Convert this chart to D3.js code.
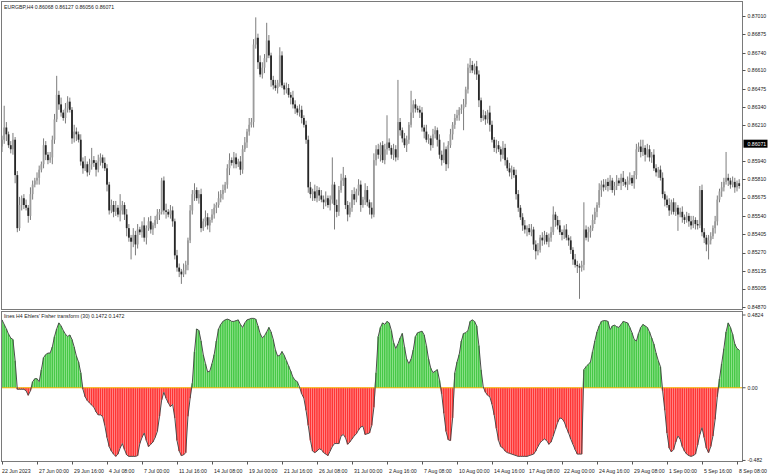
<!DOCTYPE html>
<html><head><meta charset="utf-8">
<script src="https://cdn.jsdelivr.net/npm/d3@7/dist/d3.min.js"></script>
<style>
body{margin:0;background:#fff}
svg{display:block}
text{font-family:"Liberation Sans",Arial,sans-serif;fill:#1a1a1a}
</style>
</head><body>
<svg id="c" width="768" height="476"></svg>
<script>
const symbolTitle = "EURGBP,H4  0.86068 0.86127 0.86056 0.86071";
const indicatorTitle = "lines H4 Ehlers' Fisher transform (30) 0.1472 0.1472";
const priceTicks = [0.87010,0.86875,0.86740,0.86610,0.86475,0.86340,0.86210,0.85940,0.85810,0.85675,0.85540,0.85405,0.85270,0.85135,0.85005,0.84870];
const currentPrice = 0.86071;
const fisherTicks = [0.4824, 0, -0.482];
const fisherTickLabels = ["0.4824", "0.00", "-0.482"];
const timeLabels = ["22 Jun 2023","27 Jun 00:00","29 Jun 16:00","4 Jul 08:00","7 Jul 00:00","11 Jul 16:00","14 Jul 08:00","19 Jul 00:00","21 Jul 16:00","26 Jul 08:00","31 Jul 00:00","2 Aug 16:00","7 Aug 08:00","10 Aug 00:00","14 Aug 16:00","17 Aug 08:00","22 Aug 00:00","24 Aug 16:00","29 Aug 08:00","1 Sep 00:00","5 Sep 16:00","8 Sep 08:00"];
const barsPerTimeLabel = 16;
const firstOpen = 0.8605;
const closes = [
0.8610,0.8619,0.8614,0.8606,0.8603,0.8610,0.8584,0.8545,0.8562,0.8567,
0.8562,0.8560,0.8554,0.8570,0.8577,0.8580,0.8582,0.8588,0.8592,0.8606,
0.8599,0.8595,0.8597,0.8610,0.8625,0.8643,0.8636,0.8630,0.8626,0.8633,
0.8638,0.8632,0.8611,0.8616,0.8614,0.8610,0.8594,0.8589,0.8592,0.8586,
0.8592,0.8595,0.8593,0.8588,0.8594,0.8597,0.8593,0.8589,0.8577,0.8558,
0.8562,0.8557,0.8560,0.8555,0.8558,0.8562,0.8555,0.8545,0.8538,0.8535,
0.8540,0.8533,0.8544,0.8542,0.8547,0.8538,0.8545,0.8550,0.8544,0.8547,
0.8551,0.8555,0.8557,0.8580,0.8558,0.8557,0.8555,0.8558,0.8550,0.8525,
0.8516,0.8513,0.8511,0.8514,0.8518,0.8536,0.8558,0.8570,0.8573,0.8567,
0.8570,0.8545,0.8550,0.8553,0.8547,0.8551,0.8555,0.8560,0.8562,0.8567,
0.8570,0.8573,0.8577,0.8589,0.8595,0.8593,0.8597,0.8592,0.8594,0.8588,
0.8603,0.8608,0.8616,0.8621,0.8623,0.8680,0.8685,0.8667,0.8658,0.8663,
0.8670,0.8683,0.8672,0.8654,0.8650,0.8648,0.8652,0.8672,0.8650,0.8647,
0.8648,0.8643,0.8641,0.8636,0.8633,0.8630,0.8632,0.8626,0.8621,0.8610,
0.8575,0.8570,0.8572,0.8567,0.8573,0.8569,0.8566,0.8564,0.8567,0.8562,
0.8566,0.8577,0.8562,0.8557,0.8573,0.8580,0.8582,0.8562,0.8555,0.8560,
0.8570,0.8566,0.8572,0.8577,0.8562,0.8566,0.8573,0.8564,0.8560,0.8555,
0.8595,0.8603,0.8599,0.8606,0.8595,0.8603,0.8608,0.8604,0.8599,0.8603,
0.8597,0.8623,0.8617,0.8611,0.8606,0.8610,0.8621,0.8630,0.8636,0.8633,
0.8632,0.8630,0.8619,0.8616,0.8610,0.8611,0.8606,0.8614,0.8617,0.8610,
0.8599,0.8595,0.8603,0.8592,0.8606,0.8614,0.8621,0.8626,0.8628,0.8632,
0.8633,0.8636,0.8647,0.8663,0.8665,0.8661,0.8664,0.8658,0.8639,0.8626,
0.8628,0.8625,0.8630,0.8621,0.8610,0.8604,0.8606,0.8603,0.8599,0.8604,
0.8595,0.8589,0.8586,0.8588,0.8584,0.8570,0.8560,0.8553,0.8547,0.8544,
0.8545,0.8542,0.8544,0.8533,0.8528,0.8529,0.8538,0.8536,0.8540,0.8535,
0.8538,0.8542,0.8555,0.8551,0.8547,0.8542,0.8540,0.8544,0.8538,0.8536,
0.8529,0.8522,0.8518,0.8517,0.8516,0.8518,0.8544,0.8538,0.8542,0.8545,
0.8551,0.8557,0.8562,0.8573,0.8577,0.8575,0.8579,0.8576,0.8580,0.8573,
0.8576,0.8580,0.8578,0.8582,0.8579,0.8577,0.8580,0.8582,0.8578,0.8584,
0.8603,0.8605,0.8601,0.8604,0.8599,0.8603,0.8597,0.8599,0.8589,0.8586,
0.8588,0.8582,0.8570,0.8566,0.8562,0.8558,0.8564,0.8557,0.8560,0.8555,
0.8557,0.8553,0.8551,0.8554,0.8550,0.8547,0.8551,0.8548,0.8547,0.8573,
0.8542,0.8538,0.8533,0.8536,0.8539,0.8545,0.8550,0.8566,0.8572,0.8575,
0.8579,0.8582,0.8580,0.8577,0.8579,0.8575,0.8578,0.8576];
// shadow lengths in pips (0.0001)
const upperShadow = [
3,16,4,2,3,5,2,3,6,2, 3,4,2,5,3,2,4,3,2,5, 3,2,4,3,4,14,3,5,2,4, 4,3,2,5,3,2,4,3,6,2,
4,9,3,2,5,3,2,4,3,2, 4,3,5,2,12,3,2,4,3,2, 5,3,4,2,3,6,2,3,4,2, 3,4,2,2,3,5,2,4,3,2,
4,3,2,5,3,2,4,3,5,2, 3,4,2,5,3,2,4,3,2,5, 3,4,2,3,5,2,4,3,2,4, 3,4,2,5,3,4,15,3,5,4,
3,13,4,2,3,4,2,6,3,2, 4,3,2,5,3,2,4,3,2,3, 3,4,2,5,3,2,4,3,5,2, 3,20,2,4,3,5,8,2,3,4,
3,5,2,4,3,2,5,3,2,4, 5,3,4,2,3,4,20,3,2,4, 3,31,3,2,4,3,2,16,3,4, 2,3,4,2,5,3,2,4,3,2,
4,3,5,2,3,4,2,3,4,2, 3,4,2,3,5,3,2,4,3,2, 4,3,2,5,3,2,4,3,2,5, 3,2,4,3,2,4,3,2,3,4,
2,3,4,2,3,5,2,4,3,2, 3,4,6,2,3,4,2,3,4,2, 3,2,4,3,2,3,20,3,4,2, 4,3,2,5,3,4,2,3,4,2,
3,4,2,3,5,2,3,4,2,3, 4,3,5,6,2,4,3,2,4,3, 2,3,4,2,3,5,2,3,4,2, 3,4,2,3,2,4,3,2,3,3,
4,3,2,4,3,2,4,3,2,4, 3,19,3,2,4,3,2,3];
const lowerShadow = [
4,3,5,2,3,4,6,3,2,4, 3,2,5,3,4,2,3,5,2,3, 4,3,2,5,3,2,4,3,2,4, 3,2,4,3,5,2,3,4,2,3,
2,4,3,5,2,3,4,2,5,3, 2,4,3,2,5,3,4,6,3,13, 4,8,3,2,4,3,5,2,3,4, 2,3,4,2,3,5,2,3,4,3,
3,4,7,2,3,4,2,3,5,2, 4,3,2,4,3,5,2,3,4,2, 3,4,2,3,5,2,4,3,2,4, 3,2,4,3,2,4,3,5,2,3,
4,3,2,5,3,2,4,3,2,4, 3,2,5,3,4,2,3,4,2,3, 4,3,5,2,3,4,2,5,3,2, 4,3,18,4,3,2,4,3,5,2,
3,4,2,3,5,2,4,3,5,3, 2,4,3,5,2,3,4,2,3,4, 3,2,4,3,2,5,3,2,4,3, 2,4,3,5,2,3,4,2,3,5,
3,4,2,5,3,2,4,3,2,4, 3,16,2,3,4,2,3,4,5,3, 2,4,3,5,2,3,4,2,5,3, 4,2,3,5,2,4,3,2,4,3,
5,2,3,4,6,3,2,4,3,2, 4,3,2,5,3,2,4,3,2,4, 3,4,2,5,23,3,4,2,3,4, 2,3,4,2,5,3,2,4,3,2,
4,3,2,5,3,2,4,3,2,4, 3,2,4,3,5,2,3,4,2,3, 4,2,3,5,2,4,3,2,3,12, 2,4,3,2,4,3,2,4,3,2,
3,4,5,11,3,2,4,3,2,4, 3,2,4,3,2,4,3,2];
const fisher = [
0.45,0.42,0.39,0.355,0.33,0.32,0.18,-0.01,-0.01,-0.01,
-0.01,-0.02,-0.05,-0.02,0.04,0.06,0.06,0.04,0.12,0.2,
0.22,0.23,0.23,0.27,0.34,0.39,0.43,0.41,0.38,0.355,
0.34,0.35,0.32,0.27,0.21,0.17,0.1,-0.01,-0.06,-0.085,
-0.1,-0.115,-0.13,-0.16,-0.18,-0.18,-0.19,-0.25,-0.33,-0.39,
-0.42,-0.44,-0.455,-0.44,-0.4,-0.37,-0.41,-0.445,-0.455,-0.455,
-0.455,-0.455,-0.45,-0.37,-0.33,-0.3,-0.35,-0.39,-0.375,-0.36,
-0.33,-0.29,-0.19,-0.08,-0.03,-0.07,-0.1,-0.125,-0.11,-0.2,
-0.35,-0.42,-0.45,-0.445,-0.43,-0.19,-0.07,0.03,0.24,0.39,
0.38,0.31,0.22,0.16,0.105,0.11,0.16,0.22,0.31,0.39,
0.42,0.44,0.45,0.455,0.45,0.44,0.44,0.445,0.45,0.42,
0.4,0.43,0.45,0.455,0.46,0.46,0.455,0.41,0.36,0.33,
0.345,0.37,0.4,0.37,0.32,0.25,0.21,0.215,0.24,0.215,
0.18,0.145,0.11,0.07,0.05,0.04,0.005,-0.04,-0.07,-0.15,
-0.25,-0.35,-0.42,-0.43,-0.42,-0.405,-0.41,-0.43,-0.44,-0.45,
-0.42,-0.39,-0.37,-0.37,-0.37,-0.32,-0.31,-0.33,-0.375,-0.36,
-0.34,-0.32,-0.305,-0.28,-0.26,-0.255,-0.31,-0.305,-0.3,-0.25,
-0.13,0.1,0.34,0.4,0.43,0.42,0.44,0.43,0.38,0.3,
0.26,0.29,0.33,0.36,0.27,0.19,0.16,0.19,0.25,0.34,
0.365,0.37,0.375,0.35,0.28,0.19,0.13,0.1,0.11,0.12,
0.05,-0.04,-0.17,-0.29,-0.345,-0.35,-0.2,0.1,0.17,0.22,
0.31,0.36,0.365,0.38,0.44,0.45,0.44,0.41,0.28,0.12,
0.005,-0.03,-0.05,-0.06,-0.11,-0.18,-0.27,-0.35,-0.39,-0.4,
-0.42,-0.43,-0.435,-0.44,-0.445,-0.45,-0.455,-0.455,-0.455,-0.455,
-0.455,-0.45,-0.445,-0.44,-0.42,-0.39,-0.365,-0.35,-0.34,-0.35,
-0.375,-0.36,-0.32,-0.275,-0.23,-0.2,-0.205,-0.225,-0.265,-0.3,
-0.34,-0.375,-0.41,-0.44,-0.44,-0.44,0.12,0.14,0.155,0.17,
0.24,0.31,0.37,0.41,0.44,0.445,0.445,0.44,0.385,0.41,
0.415,0.405,0.4,0.42,0.44,0.435,0.43,0.4,0.365,0.32,
0.31,0.36,0.4,0.42,0.41,0.4,0.37,0.33,0.29,0.23,
0.18,0.14,-0.02,-0.15,-0.3,-0.4,-0.425,-0.41,-0.36,-0.32,
-0.34,-0.39,-0.42,-0.44,-0.45,-0.455,-0.45,-0.44,-0.38,-0.31,
-0.265,-0.33,-0.4,-0.43,-0.39,-0.32,-0.21,-0.06,0.06,0.16,
0.26,0.37,0.43,0.4,0.355,0.29,0.26,0.25];

const pip = 0.0001;
const candles = closes.map((c, i) => {
  const o = i === 0 ? firstOpen : closes[i - 1];
  return {i, o, c, h: Math.max(o, c) + upperShadow[i] * pip, l: Math.min(o, c) - lowerShadow[i] * pip};
});

const svg = d3.select("#c");
const L = 1.5, R = 742.5, mainTop = 1.5, mainBot = 309.5, indTop = 311.5, indBot = 461.5;

const x = d3.scaleLinear().domain([0, 338]).range([2, 741.375]);
const y = d3.scaleLinear().domain([0.84870, 0.87010]).range([307, 16]);
const fy = d3.scaleLinear().domain([-0.4824, 0.4824]).range([460.5, 315]);

const defs = svg.append("defs");
defs.append("clipPath").attr("id","cm").append("rect").attr("x",L).attr("y",mainTop).attr("width",R-L).attr("height",mainBot-mainTop);
defs.append("clipPath").attr("id","ci").append("rect").attr("x",L).attr("y",indTop).attr("width",R-L).attr("height",indBot-indTop);

// ---- main candles
const gm = svg.append("g").attr("clip-path","url(#cm)");
gm.selectAll("line.w").data(candles).join("line")
  .attr("x1", d => x(d.i)).attr("x2", d => x(d.i))
  .attr("y1", d => y(d.h)).attr("y2", d => y(d.l))
  .attr("stroke", "#7c7c7c").attr("stroke-width", 1);
gm.selectAll("rect.b").data(candles).join("rect")
  .attr("x", d => x(d.i) - 0.9).attr("width", 1.8)
  .attr("y", d => y(Math.max(d.o, d.c)))
  .attr("height", d => Math.max(1, Math.abs(y(d.o) - y(d.c))))
  .attr("fill", d => d.c >= d.o ? "#9c9c9c" : "#262626");

// ---- indicator
const gi = svg.append("g").attr("clip-path","url(#ci)");
const bw = x(1) - x(0);
gi.append("path").datum(fisher)
  .attr("d", d3.area().x((d,i)=>x(i)).y0(fy(0)).y1(d=>fy(Math.max(d,0))))
  .attr("fill", "#b4eeb0");
gi.append("path").datum(fisher)
  .attr("d", d3.area().x((d,i)=>x(i)).y0(fy(0)).y1(d=>fy(Math.min(d,0))))
  .attr("fill", "#ffb2b2");
gi.selectAll("rect.h").data(fisher).join("rect")
  .attr("x", (d,i) => x(i) - bw/2 + 0.25).attr("width", bw - 0.6)
  .attr("y", d => Math.min(fy(d), fy(0)))
  .attr("height", d => Math.abs(fy(d) - fy(0)))
  .attr("fill", d => d >= 0 ? "#46c846" : "#ff3434");
gi.append("line").attr("x1", L).attr("x2", R).attr("y1", fy(0)).attr("y2", fy(0))
  .attr("stroke", "#f4b400").attr("stroke-width", 1);
gi.append("path").datum(fisher)
  .attr("d", d3.line().x((d,i)=>x(i)).y(d=>fy(d)))
  .attr("fill", "none").attr("stroke", "#4d4d4d").attr("stroke-width", 1);

// ---- frames
svg.append("rect").attr("x",L).attr("y",mainTop).attr("width",R-L).attr("height",mainBot-mainTop)
  .attr("fill","none").attr("stroke","#7a7a7a");
svg.append("rect").attr("x",L).attr("y",indTop).attr("width",R-L).attr("height",indBot-indTop)
  .attr("fill","none").attr("stroke","#7a7a7a");

// ---- price axis
const pa = svg.append("g");
pa.selectAll("line").data(priceTicks).join("line")
  .attr("x1", R).attr("x2", R + 3).attr("y1", d => Math.round(y(d)) + 0.5).attr("y2", d => Math.round(y(d)) + 0.5)
  .attr("stroke", "#555");
pa.selectAll("text").data(priceTicks).join("text")
  .attr("x", R + 5).attr("y", d => y(d)).attr("dy", "0.35em")
  .attr("font-size", 5.2).text(d => d.toFixed(5));
const cy = y(currentPrice);
svg.append("rect").attr("x", R + 1).attr("y", cy - 4).attr("width", 24).attr("height", 8).attr("fill", "#000");
svg.append("text").attr("x", R + 5).attr("y", cy).attr("dy", "0.35em").attr("font-size", 5.2)
  .style("fill", "#fff").text(currentPrice.toFixed(5));

// ---- indicator axis
const ia = svg.append("g");
ia.selectAll("line").data(fisherTicks).join("line")
  .attr("x1", R).attr("x2", R + 3).attr("y1", d => fy(d)).attr("y2", d => fy(d)).attr("stroke", "#555");
ia.selectAll("text").data(fisherTicks).join("text")
  .attr("x", R + 5).attr("y", d => fy(d)).attr("dy", "0.35em").attr("font-size", 5.2)
  .text((d, i) => fisherTickLabels[i]);

// ---- time axis
const ta = svg.append("g");
ta.selectAll("line").data(timeLabels).join("line")
  .attr("x1", (d,k) => Math.round(x(k * barsPerTimeLabel)) + 0.5).attr("x2", (d,k) => Math.round(x(k * barsPerTimeLabel)) + 0.5)
  .attr("y1", indBot).attr("y2", indBot + 3).attr("stroke", "#555");
ta.selectAll("text").data(timeLabels).join("text")
  .attr("x", (d,k) => x(k * barsPerTimeLabel) + (k === 0 ? 0 : 2)).attr("y", 471).attr("dy", "0.35em")
  .attr("font-size", 5.2).text(d => d);

// ---- titles
svg.append("text").attr("x", 4).attr("y", 7).attr("dy", "0.35em").attr("font-size", 5.2).text(symbolTitle);
svg.append("text").attr("x", 4).attr("y", 316.5).attr("dy", "0.35em").attr("font-size", 5.2).text(indicatorTitle);
</script>
</body></html>
